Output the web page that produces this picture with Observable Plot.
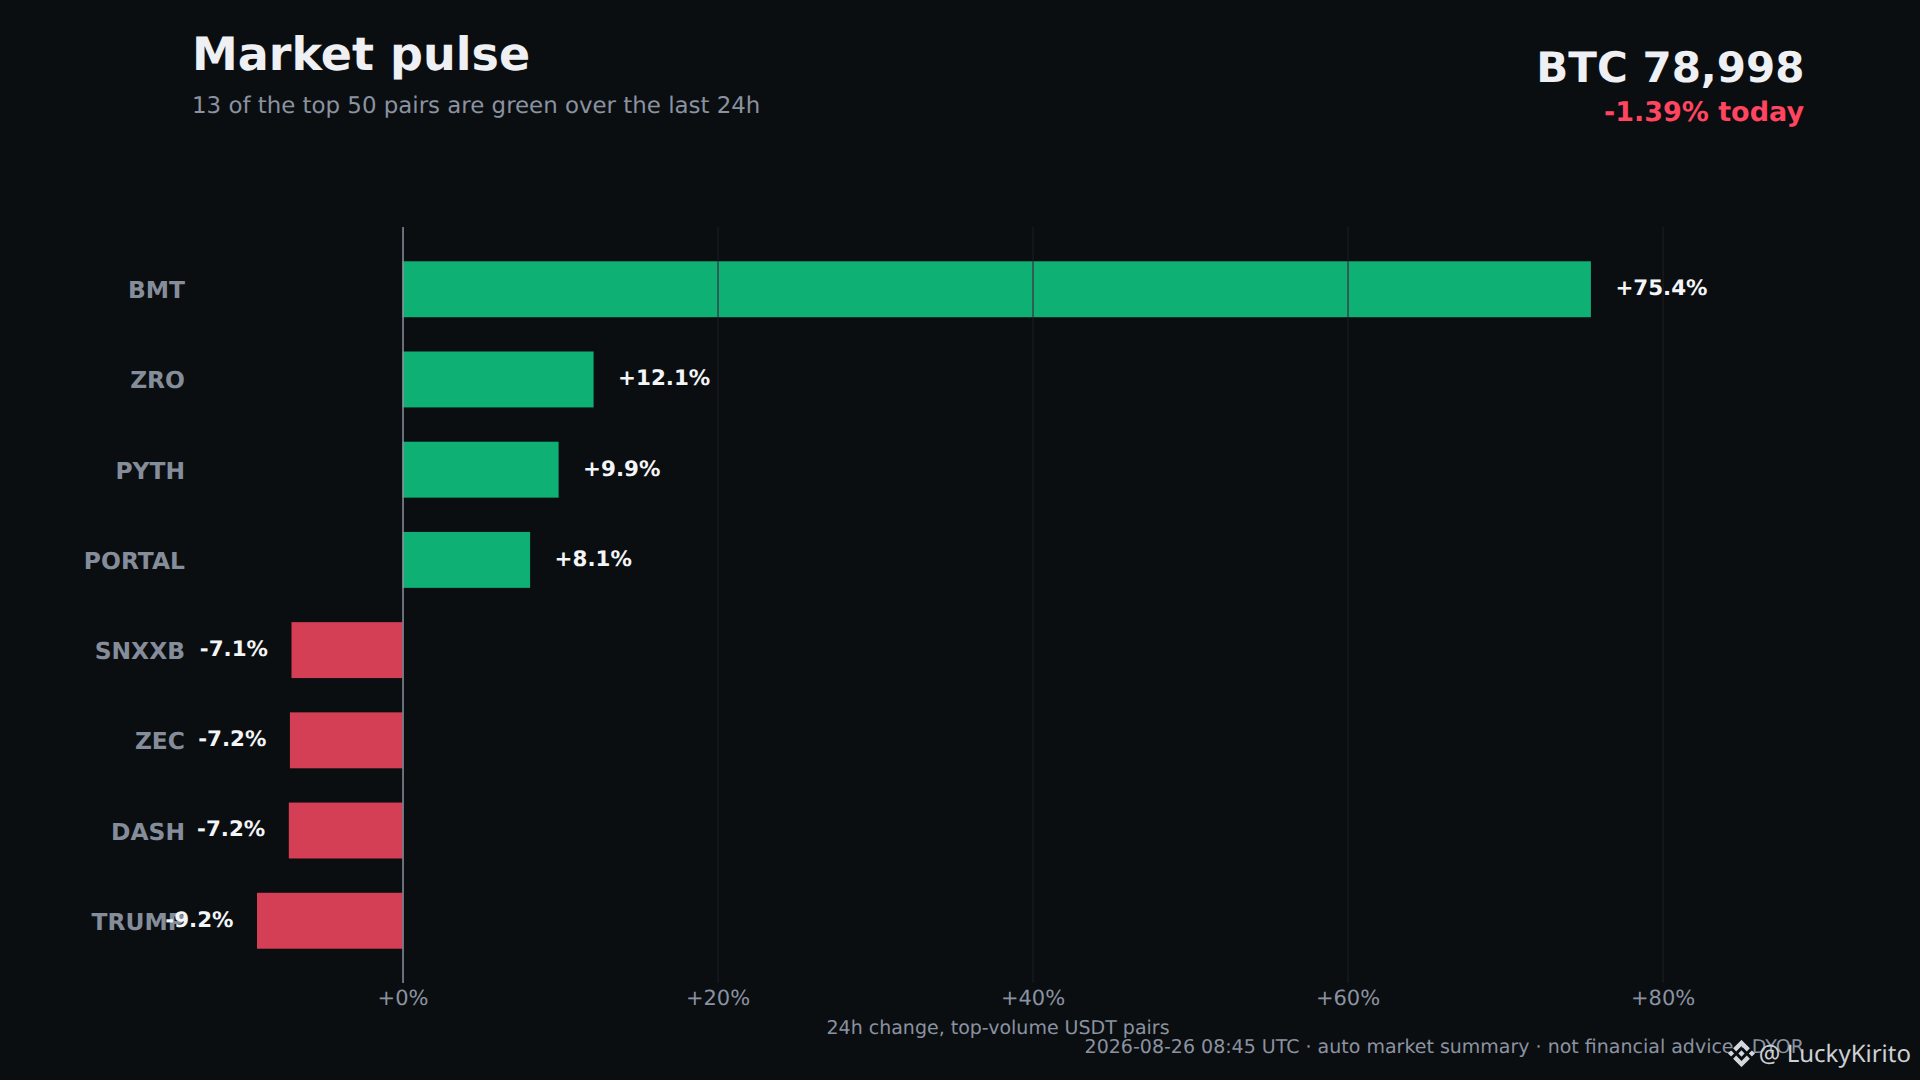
<!DOCTYPE html>
<html>
<head>
<meta charset="utf-8">
<script src="https://cdn.jsdelivr.net/npm/d3@7"></script>
<script src="https://cdn.jsdelivr.net/npm/@observablehq/plot@0.6"></script>
<style>
html,body{margin:0;padding:0;background:#0a0e11;width:1920px;height:1080px;overflow:hidden;font-family:"DejaVu Sans",sans-serif;text-rendering:geometricPrecision;}
#chart{position:absolute;left:0;top:0;}
#chart text{text-rendering:geometricPrecision;}
.t{position:absolute;white-space:nowrap;line-height:1;}
</style>
</head>
<body>
<div class="t" style="left:192px;top:31px;font-size:46px;font-weight:700;color:#eef0f4">Market pulse</div>
<div class="t" style="left:192px;top:95px;font-size:22.9px;color:#8b92a0">13 of the top 50 pairs are green over the last 24h</div>
<div class="t" style="right:115.500px;top:46.500px;font-size:42px;font-weight:700;color:#eef0f4">BTC 78,998</div>
<div class="t" style="right:116px;top:99px;font-size:27px;font-weight:700;color:#ff4560">-1.39% today</div>
<div id="chart"></div>
<div class="t" style="right:116px;top:1038px;font-size:19px;color:#8b92a0">2026-08-26 08:45 UTC · auto market summary · not financial advice · DYOR</div>
<svg style="position:absolute;left:1728px;top:1040px" width="27" height="27" viewBox="0 0 126 126"><g fill="#d4d7db"><path d="M38.200 53.100L63 28.300 87.800 53.100 102.200 38.700 63 -0.500 23.800 38.700zM38.200 72.900L63 97.700 87.800 72.900 102.200 87.300 63 126.500 23.800 87.300zM0 63l14.400-14.400L28.800 63 14.400 77.400zM97.200 63l14.400-14.400L126 63l-14.400 14.400zM63 48.400L77.600 63 63 77.600 48.400 63z"/></g></svg>
<div class="t" style="right:9px;top:1042px;font-size:24px;font-family:'Noto Sans';color:#cdd0d4">@ LuckyKirito</div>
<script>
const symbols = ["BMT","ZRO","PYTH","PORTAL","SNXXB","ZEC","DASH","TRUMP"];
const changes = [75.45,12.13,9.91,8.1,-7.05,-7.15,-7.22,-9.24];
const valueLabels = ["+75.4%","+12.1%","+9.9%","+8.1%","-7.1%","-7.2%","-7.2%","-9.2%"];
const xTicks = [0,20,40,60,80];
const gridTicks = [20,40,60,80];
const rows = symbols.map((s,i)=>({s,v:changes[i],label:valueLabels[i]}));
const up = rows.filter(d=>d.v>=0), down = rows.filter(d=>d.v<0);
const GREEN="#0fb073", RED="#d43f55", MUTED="#8b92a0";
const plot = Plot.plot({
  width:1920, height:1080,
  marginTop:227, marginBottom:97, marginLeft:191, marginRight:116,
  style:{background:"transparent",fontFamily:"'DejaVu Sans',sans-serif",color:MUTED,overflow:"visible"},
  x:{domain:[-13.43,88.98]},
  y:{domain:symbols,padding:0.38,round:false},
  marks:[
    Plot.barX(up,{y:"s",x1:0,x2:"v",fill:GREEN}),
    Plot.barX(down,{y:"s",x1:0,x2:"v",fill:RED}),
    Plot.gridX(gridTicks,{stroke:"#1c2127",strokeOpacity:1,strokeWidth:1}),
    Plot.tickX(gridTicks.filter(d=>d<75.4),{x:d=>d,y:()=>"BMT",stroke:"#4a5560",strokeWidth:1}),
    Plot.ruleX([0],{stroke:MUTED,strokeWidth:1.5}),
    Plot.axisY({anchor:"left",tickSize:0,tickPadding:6.5,label:null,fontSize:23.4,fontWeight:700,fill:"#868d9a",dy:1,textStroke:"none"}),
    Plot.axisX(xTicks,{anchor:"bottom",tickSize:0,tickPadding:7,label:null,fontSize:21,fill:MUTED,tickFormat:d=>"+"+d+"%"}),
    Plot.text(["24h change, top-volume USDT pairs"],{frameAnchor:"bottom",dy:50.5,fontSize:19,fill:MUTED}),
    Plot.text(up,{y:"s",x:"v",text:"label",textAnchor:"start",dx:24,dy:-1.5,fontSize:21.4,fontWeight:700,fill:"#f4f5f7"}),
    Plot.text(down,{y:"s",x:"v",text:"label",textAnchor:"end",dx:-24,dy:-1.5,fontSize:21.4,fontWeight:700,fill:"#f4f5f7"})
  ]
});
document.getElementById("chart").appendChild(plot);
</script>
</body>
</html>
